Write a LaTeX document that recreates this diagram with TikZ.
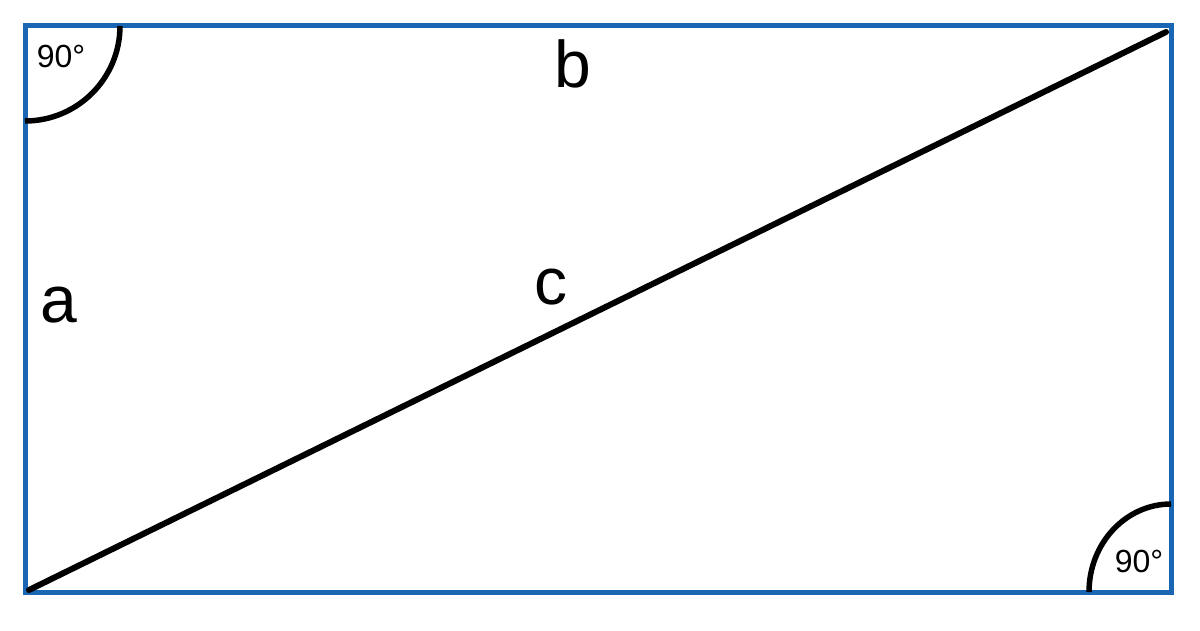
\documentclass[tikz,border=0pt]{standalone}
\usepackage{fontspec}
\setmainfont{Liberation Sans}
\usetikzlibrary{calc}

\definecolor{frameblue}{RGB}{24,102,180}

\begin{document}
\begin{tikzpicture}[x=1pt, y=1pt, line cap=round,
  side/.style={font=\fontsize{66}{66}\selectfont, anchor=base, inner sep=0pt},
  angle/.style={font=\fontsize{32}{32}\selectfont, anchor=base, inner sep=0pt}]

\useasboundingbox (0,0) rectangle (1200,630);

% corners of the rectangle
\coordinate (bl) at (25,38);
\coordinate (tr) at (1171,604);
\coordinate (tl) at (25,604);
\coordinate (br) at (1171,38);

\draw[frameblue, line width=5pt, line cap=butt] (bl) rectangle (tr);

% diagonal
\coordinate (d1) at (29,40);
\coordinate (d2) at (1166,598);
\draw[line width=6pt] (d1) -- (d2);

% right angle marks
\draw[line width=5.5pt, line cap=butt] ($(tl)+(95,0)$) arc[start angle=0, end angle=-90, radius=95];
\draw[line width=5.5pt, line cap=butt] ($(br)+(-82,0)$) arc[start angle=180, end angle=90, x radius=82, y radius=88];

\node[angle] (a1) at (61,562) {90°};
\node[angle] (a2) at (1139,58) {90°};

% labels
\node[side] (la) at (59,307) {a};
\node[side] (lb) at (573,542) {b};
\node[side] (lc) at (551,325) {c};

\end{tikzpicture}
\end{document}
